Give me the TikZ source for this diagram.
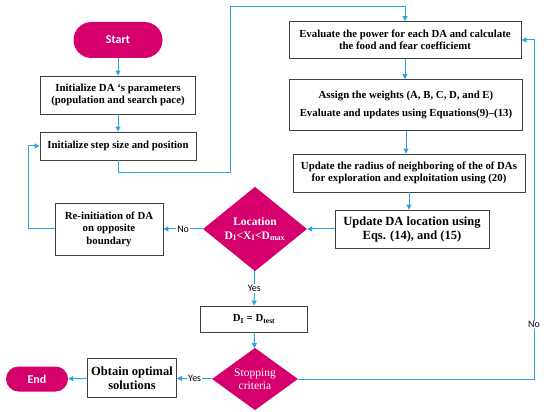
\documentclass[tikz,border=0pt]{standalone}
\usepackage{fontspec}
\setmainfont{Liberation Serif}
\newfontfamily\labelfont{Carlito}
\usetikzlibrary{shapes.geometric,arrows.meta}
\definecolor{flowblue}{HTML}{29A3DD}
\definecolor{termpink}{HTML}{D5006D}
\definecolor{boxgray}{HTML}{404040}

\begin{document}
\begin{tikzpicture}[x=1pt,y=-1pt,
        box/.style={draw=boxgray,line width=0.9pt,fill=white,align=center,inner sep=1pt,font=\fontsize{10.8}{12.5}\selectfont\bfseries},
        term/.style={fill=termpink,text=white,font=\labelfont\fontsize{12}{14}\selectfont\bfseries},
        decide/.style={diamond,fill=termpink,inner sep=0pt,align=center,text=white,font=\fontsize{11.5}{13}\selectfont},
        flow/.style={draw=flowblue,line width=1pt,-{Triangle[length=5pt,width=5pt]}},
        lbl/.style={fill=white,inner sep=1pt,font=\labelfont\fontsize{10}{11}\selectfont}]
        \useasboundingbox (0,0) rectangle (550,412);
        % left column
        \node [term,minimum width=89pt,minimum height=36pt,rounded corners=18pt] (start) at (118,40) {Start};
        \node [box,minimum width=155pt,minimum height=38pt] (params) at (118,95) {Initialize DA `s parameters\\ (population and search pace)};
        \node [box,minimum width=156pt,minimum height=28pt] (stepinit) at (118,146) {Initialize step size and position};
        % right column
        \node [box,minimum width=232pt,minimum height=37pt,font=\fontsize{10.8}{11.5}\selectfont\bfseries] (power) at (405,40) {Evaluate the power for each DA and calculate\\ the food and fear coefficiemt};
        \node [box,minimum width=233pt,minimum height=51pt] (weights) at (406,105) {Assign the weights (A, B, C, D, and E)\\[6pt] Evaluate and updates using Equations(9)--(13)};
        \node [box,minimum width=232pt,minimum height=38pt] (radius) at (409,173) {Update the radius of neighboring of the of DAs\\ for exploration and exploitation using (20)};
        \node [box,minimum width=154pt,minimum height=38pt,font=\fontsize{12.5}{14}\selectfont\bfseries] (update) at (412,229) {Update DA location using\\ Eqs. (14), and (15)};
        % decisions
        \node [decide,minimum width=104pt,minimum height=81pt,font=\fontsize{11.5}{14}\selectfont\bfseries] (loccheck) at (255,229) {Location\\ D\textsubscript{I}<X\textsubscript{I}<D\textsubscript{max}};
        \node [box,minimum width=108pt,minimum height=52pt] (reinit) at (109,229) {Re-initiation of DA\\ on opposite\\ boundary};
        \node [box,minimum width=107pt,minimum height=26pt] (dbest) at (254,319) {D\textsubscript{I} = D\textsubscript{test}};
        \node [decide,minimum width=86pt,minimum height=54pt] (stopcheck) at (255,379) {Stopping\\ criteria};
        \node [box,minimum width=89pt,minimum height=39pt,font=\fontsize{12.5}{14}\selectfont\bfseries] (optimal) at (132,378) {Obtain optimal\\ solutions};
        \node [term,minimum width=62pt,minimum height=25pt,rounded corners=12.5pt] (finish) at (37,379) {End};
        % bends
        \coordinate (lowjoin) at (230,173);
        \coordinate (topjoin) at (230,7);
        \coordinate (backleft) at (28,229);
        \coordinate (noturn) at (534,379);
        % connectors
        \draw [flow] (start) -- (params);
        \draw [flow] (params) -- (stepinit);
        \draw [flow] (stepinit.south) |- (lowjoin) -- (topjoin) -| (power.north);
        \draw [flow] (power.south) -- (power.south |- weights.north);
        \draw [flow] (weights.south) -- (weights.south |- radius.north);
        \draw [flow] (radius.south) -- (radius.south |- update.north);
        \draw [flow] (update) -- (loccheck);
        \draw [flow] (loccheck) -- node [lbl] {No} (reinit);
        \draw [flow] (reinit.west) -- (backleft) |- (stepinit.west);
        \draw [flow] (loccheck) -- node [lbl] {Yes} (dbest);
        \draw [flow] (dbest) -- (stopcheck);
        \draw [flow] (stopcheck) -- node [lbl] {Yes} (optimal);
        \draw [flow] (optimal) -- (finish);
        \draw [flow] (stopcheck.east) -- (noturn) |- node [lbl,pos=0.08] {No} (power.east);
\end{tikzpicture}
\end{document}
